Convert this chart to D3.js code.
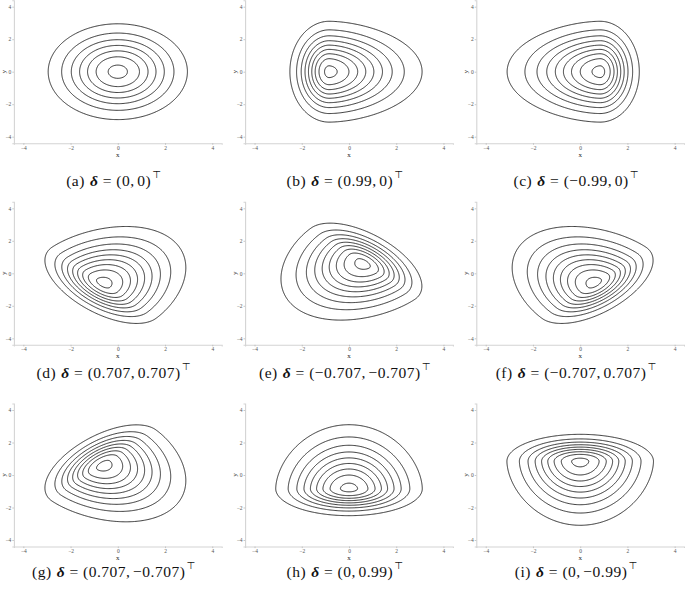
<!DOCTYPE html>
<html><head><meta charset="utf-8">
<script src="https://cdn.jsdelivr.net/npm/d3@7"></script>
<style>body{margin:0;background:#fff}</style>
</head><body>
<svg id="chart" width="685" height="590"></svg>
<script>
// ---- data ----
const panelLetters = ["a","b","c","d","e","f","g","h","i"];
const deltaX = [0, 0.99, -0.99, 0.707, -0.707, -0.707, 0.707, 0, 0];
const deltaY = [0, 0, 0, 0.707, -0.707, 0.707, -0.707, 0.99, -0.99];
const contourLevels = [0.01, 0.02, 0.03, 0.04, 0.05, 0.06, 0.07, 0.08, 0.09, 0.10];
const xTickValues = [-4, -2, 0, 2, 4];
const yTickValues = [-4, -2, 0, 2, 4];
// density shape: [symmetric (delta = 0), fully skewed (|delta| = 1)]
const modeOffset = [0, -0.85];     // mode position along delta
const sdBehind   = [1.48, 0.78];   // spread on the side opposite delta
const sdAhead    = [1.48, 1.68];   // spread on the side of delta
const tailPower  = [2, 1.75];      // decay exponent on the side of delta
const sdAcross   = [1.48, 1.47];   // spread across delta
const peakHeight = [0.0727, 0.093];

// ---- layout ----
const W = 685, H = 590;
const colLeft = [13.9, 245.1, 476.3];
const rowTop = [0.2, 201.8, 403.5];
const plotW = 207.8, plotH = 143;
const captionBase = [185.5, 377.5, 576.5];
const captionShift = -4;
const dom = [-4.4, 4.4];
const N = 241;

const svg = d3.select("#chart");
svg.append("rect").attr("width", W).attr("height", H).attr("fill", "#fff");

const lerp = (arr, m) => arr[0] + (arr[1] - arr[0])*m;
function densityFn(dx, dy){
  const r = Math.hypot(dx, dy);
  const m = Math.min(1, r);
  const ux = r ? dx/r : 1, uy = r ? dy/r : 0;
  const tm = lerp(modeOffset, m), sL = lerp(sdBehind, m), sR = lerp(sdAhead, m);
  const pR = lerp(tailPower, m), s = lerp(sdAcross, m), P = lerp(peakHeight, m);
  return (x, y) => {
    const t = x*ux + y*uy, v = -x*uy + y*ux;
    const d = t - tm;
    const drop = d < 0 ? 0.5*(d/sL)*(d/sL) : 0.5*Math.pow(d/sR, pR);
    return P*Math.exp(-drop - v*v/(2*s*s));
  };
}
const fmt = v => String(v).replace("-", "\u2212");

const step = (dom[1]-dom[0])/(N-1);
const serif = "Liberation Serif, serif";

panelLetters.forEach((letter, k) => {
  const col = k % 3, row = Math.floor(k/3);
  const g = svg.append("g").attr("transform", `translate(${colLeft[col]},${rowTop[row]})`);
  const xS = d3.scaleLinear().domain(dom).range([0, plotW]);
  const yS = d3.scaleLinear().domain(dom).range([plotH, 0]);

  // axes
  const xAxis = d3.axisBottom(xS).tickValues(xTickValues).tickSize(1.6).tickPadding(1).tickFormat(fmt);
  const yAxis = d3.axisLeft(yS).tickValues(yTickValues).tickSize(1.6).tickPadding(1).tickFormat(fmt);
  const gx = g.append("g").attr("transform", `translate(0,${plotH})`).call(xAxis);
  const gy = g.append("g").call(yAxis);
  [gx, gy].forEach(a => {
    a.select(".domain").attr("stroke", "#d4d4d4").attr("stroke-width", 1.1);
    a.selectAll(".tick line").attr("stroke", "#bbbbbb").attr("stroke-width", 0.8);
    a.selectAll(".tick text").attr("fill", "#555").attr("font-size", 5.5).attr("font-family", serif);
  });
  g.append("text").attr("x", plotW/2).attr("y", plotH + 13.5).attr("text-anchor", "middle")
    .attr("font-family", serif).attr("font-size", 7).attr("fill", "#222").text("x");
  g.append("text").attr("transform", `translate(-8.4,${plotH/2}) rotate(-90)`).attr("text-anchor", "middle")
    .attr("font-family", serif).attr("font-size", 7).attr("fill", "#222").text("y");

  // density grid -> contours
  const f = densityFn(deltaX[k], deltaY[k]);
  const values = new Float64Array(N*N);
  for (let j = 0; j < N; j++) {
    const y = dom[1] - j*step;
    for (let i = 0; i < N; i++) values[j*N+i] = f(dom[0] + i*step, y);
  }
  const contours = d3.contours().size([N, N]).thresholds(contourLevels)(values);
  const proj = d3.geoTransform({
    point: function(cx, cy){
      this.stream.point(xS(dom[0] + (cx-0.5)*step), yS(dom[1] - (cy-0.5)*step));
    }
  });
  const path = d3.geoPath(proj);
  g.append("g").selectAll("path").data(contours.filter(c => c.coordinates.length)).join("path")
    .attr("d", path).attr("fill", "none").attr("stroke", "#1a1a1a").attr("stroke-width", 0.9)
    .attr("stroke-linejoin", "round");

  // caption
  const cx = colLeft[col] + plotW/2 + captionShift;
  const t = svg.append("text").attr("x", cx).attr("y", captionBase[row]).attr("text-anchor", "middle")
    .attr("font-family", serif).attr("font-size", 15.5).attr("letter-spacing", 0.5).attr("fill", "#111");
  t.append("tspan").text(`(${letter})`);
  t.append("tspan").attr("dx", "0.33em").attr("font-weight", "bold").attr("font-style", "italic").text("\u03b4");
  t.append("tspan").attr("dx", "0.28em").text("=");
  t.append("tspan").attr("dx", "0.28em").text(`(${fmt(deltaX[k])},`);
  t.append("tspan").attr("dx", "0.17em").text(`${fmt(deltaY[k])})`);
  t.append("tspan").attr("font-family", "DejaVu Sans, sans-serif").attr("font-size", 10)
    .attr("dy", -8).attr("dx", 1).text("\u22a4");
});
</script>
</body></html>
